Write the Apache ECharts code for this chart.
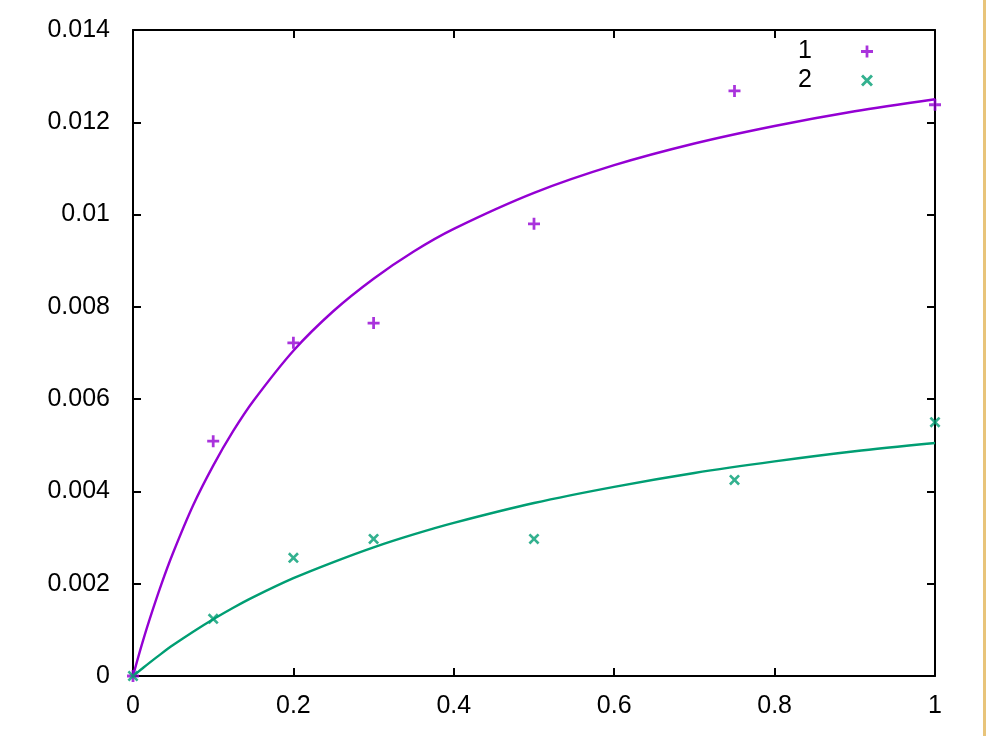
<!DOCTYPE html>
<html>
<head>
<meta charset="utf-8">
<script src="https://cdn.jsdelivr.net/npm/echarts@6/dist/echarts.min.js"></script>
<style>
html,body{margin:0;padding:0;background:#fff;}
#main{width:986px;height:736px;}
</style>
</head>
<body>
<div id="main"></div>
<script>
// Measured data points
var xPoints = [0, 0.1, 0.2, 0.3, 0.5, 0.75, 1.0];
var series1 = [0, 0.00509, 0.00722, 0.00765, 0.00980, 0.01268, 0.01238];
var series2 = [0, 0.00124, 0.00256, 0.00297, 0.00297, 0.00425, 0.00550];
// Fitted curves
var xCurve = [0, 0.01, 0.02, 0.035, 0.05, 0.075, 0.1, 0.125, 0.15, 0.2, 0.25, 0.3, 0.35, 0.4, 0.5, 0.6, 0.7, 0.8, 0.9, 1.0];
var curve1 = [0, 0.00062, 0.00119, 0.00197, 0.00267, 0.00370, 0.00456, 0.00531, 0.00596, 0.00705, 0.00791, 0.00861, 0.00920, 0.00969, 0.01047, 0.01107, 0.01154, 0.01192, 0.01224, 0.01250];
var curve2 = [0, 0.00014, 0.00028, 0.00048, 0.00067, 0.00096, 0.00123, 0.00148, 0.00171, 0.00212, 0.00247, 0.00279, 0.00307, 0.00332, 0.00375, 0.00410, 0.00440, 0.00465, 0.00487, 0.00505];
var seriesNames = ['1', '2'];
var xTicks = ['0', '0.2', '0.4', '0.6', '0.8', '1'];

var purple = '#9400d3', green = '#009e73';
var plusPath = 'path://M3.85,0H6.15V3.85H10V6.15H6.15V10H3.85V6.15H0V3.85H3.85Z';
var crossPath = 'path://M0,1.7L1.7,0L5,3.3L8.3,0L10,1.7L6.7,5L10,8.3L8.3,10L5,6.7L1.7,10L0,8.3L3.3,5Z';

function pairs(xs, ys){ return xs.map(function(x,i){ return [x, ys[i]]; }); }

var chart = echarts.init(document.getElementById('main'));
var labelFont = {fontFamily: 'Liberation Sans, Arial, sans-serif', fontSize: 25, color: '#000'};
var axisBase = {
  axisLine: {show: true, onZero: false, lineStyle: {color: '#000', width: 2}},
  axisTick: {show: true, inside: true, length: 8, lineStyle: {color: '#000', width: 2}},
  splitLine: {show: false}
};
chart.setOption({
  animation: false,
  backgroundColor: '#fff',
  grid: {left: 133, right: 51, top: 30, bottom: 60, containLabel: false},
  legend: {
    data: seriesNames,
    orient: 'vertical',
    align: 'right',
    right: 108,
    top: 34,
    itemWidth: 100,
    itemHeight: 12,
    itemGap: 4,
    textStyle: {fontFamily: 'Liberation Sans, Arial, sans-serif', fontSize: 25, color: '#000'}
  },
  xAxis: [
    Object.assign({type: 'value', min: 0, max: 1, interval: 0.2, position: 'bottom',
      axisLabel: Object.assign({margin: 18, formatter: function(v){ var i = Math.round(v/0.2); return xTicks[i]; }}, labelFont)}, axisBase),
    Object.assign({type: 'value', min: 0, max: 1, interval: 0.2, position: 'top', axisLabel: {show: false}}, axisBase)
  ],
  yAxis: [
    Object.assign({type: 'value', min: 0, max: 0.014, interval: 0.002, position: 'left',
      axisLabel: Object.assign({margin: 23, formatter: function(v){ return v === 0 ? '0' : String(+v.toFixed(3)); }}, labelFont)}, axisBase),
    Object.assign({type: 'value', min: 0, max: 0.014, interval: 0.002, position: 'right', axisLabel: {show: false}}, axisBase)
  ],
  graphic: [{type: 'rect', shape: {x: 983, y: 0, width: 3, height: 736}, style: {fill: '#e8c47a'}, silent: true}],
  series: [
    {name: 'fit1', type: 'line', data: pairs(xCurve, curve1), smooth: 0.3, showSymbol: false, lineStyle: {color: purple, width: 2.4}, z: 2},
    {name: 'fit2', type: 'line', data: pairs(xCurve, curve2), smooth: 0.3, showSymbol: false, lineStyle: {color: green, width: 2.4}, z: 2},
    {name: seriesNames[0], type: 'scatter', data: pairs(xPoints, series1), symbol: plusPath, symbolSize: 12, itemStyle: {color: purple}, z: 3},
    {name: seriesNames[1], type: 'scatter', data: pairs(xPoints, series2), symbol: crossPath, symbolSize: 11, itemStyle: {color: green}, z: 3}
  ]
});
</script>
</body>
</html>
